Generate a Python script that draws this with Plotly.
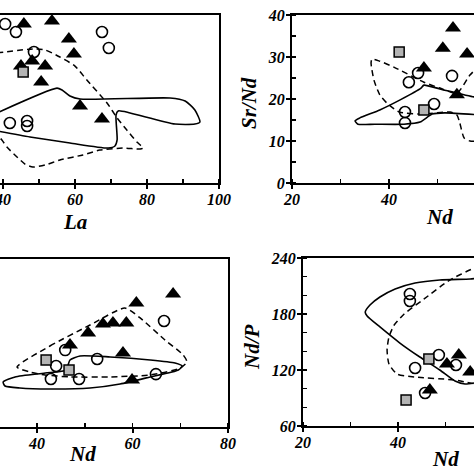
import plotly.graph_objects as go

# ---------------- data ----------------
# Panel A (top-left): La vs (cropped y axis, relative units 0-100)
A_circ_x = [40.6, 43.6, 67.5, 69.4, 48.6, 41.9, 46.7, 46.7]
A_circ_y = [94.6, 89.9, 89.9, 80.4, 78.0, 35.7, 36.9, 33.9]
A_tri_x = [45.8, 53.6, 58.3, 59.7, 48.1, 45.0, 51.7, 50.6, 61.4, 67.5]
A_tri_y = [94.6, 96.4, 85.7, 76.8, 72.6, 69.6, 69.6, 60.1, 45.8, 38.1]
A_sq_x = [45.6]
A_sq_y = [66.1]
A_solid_x = [38.3, 55.0, 56.4, 58.6, 61.4, 86.4, 90.6, 93.3, 94.7, 93.3, 87.8, 75.3, 72.0, 71.4, 71.7, 71.1, 69.2, 58.6, 47.5, 38.3]
A_solid_y = [41.7, 56.5, 55.4, 51.8, 50.0, 50.6, 48.8, 43.5, 36.3, 35.1, 35.1, 41.7, 42.9, 40.5, 25.6, 22.0, 20.8, 23.8, 27.4, 31.0]
A_dash_x = [38.3, 48.3, 51.7, 55.8, 60.0, 63.3, 68.9, 71.7, 74.4, 77.2, 78.9, 78.1, 73.3, 66.9, 62.2, 55.8, 51.7, 48.3, 46.1, 43.3, 41.1, 39.7, 38.3]
A_dash_y = [77.4, 79.8, 79.2, 75.0, 69.6, 61.3, 47.6, 38.7, 31.5, 24.4, 20.8, 20.2, 20.8, 19.6, 16.7, 13.7, 10.7, 9.5, 11.3, 16.7, 21.4, 25.6, 28.6]

# Panel B (top-right): Nd vs Sr/Nd
B_circ_x = [44.1, 46.0, 53.0, 43.3, 43.3, 49.3]
B_circ_y = [24.0, 26.2, 25.5, 16.9, 14.3, 18.8]
B_tri_x = [53.2, 51.1, 56.1, 47.2, 54.0]
B_tri_y = [36.9, 32.1, 30.7, 27.4, 21.0]
B_sq_x = [42.1, 47.2]
B_sq_y = [31.2, 17.4]
B_solid_x = [58.8, 57.5, 50.5, 47.2, 46.6, 42.3, 38.1, 34.0, 33.0, 33.6, 37.1, 43.1, 46.4, 48.9, 51.5, 58.8]
B_solid_y = [20.5, 20.5, 22.4, 23.3, 22.6, 19.8, 17.4, 15.5, 14.8, 14.0, 14.0, 14.0, 14.5, 16.4, 16.7, 16.2]
B_dash_x = [58.8, 56.7, 54.0, 50.5, 47.2, 41.0, 38.1, 36.5, 36.3, 36.9, 38.1, 39.6, 42.1, 46.4, 52.6, 54.0, 54.6, 55.5, 56.7, 58.8]
B_dash_y = [28.1, 25.7, 21.4, 22.6, 24.0, 27.6, 29.0, 29.5, 28.6, 24.5, 21.0, 19.0, 16.9, 16.4, 16.9, 16.2, 14.3, 10.7, 10.0, 10.0]

# Panel C (bottom-left): Nd vs (cropped y axis, relative units 0-100)
C_circ_x = [66.6, 45.9, 44.0, 52.6, 42.9, 48.8, 64.9]
C_circ_y = [63.1, 45.8, 36.3, 40.5, 28.6, 28.6, 31.5]
C_tri_x = [68.5, 60.8, 53.8, 55.9, 58.7, 50.7, 46.9, 58.0, 59.9]
C_tri_y = [79.2, 73.8, 61.3, 61.9, 61.9, 56.0, 48.8, 44.0, 28.0]
C_sq_x = [41.9, 46.7]
C_sq_y = [39.9, 33.9]
C_solid_x = [32.9, 35.4, 41.7, 46.1, 46.5, 46.9, 49.0, 55.3, 63.7, 68.9, 70.4, 69.6, 63.7, 57.4, 51.1, 42.7, 36.4, 33.3, 32.9]
C_solid_y = [26.8, 29.8, 32.1, 33.9, 36.9, 39.9, 42.3, 41.7, 39.9, 38.1, 36.3, 33.9, 29.8, 25.6, 23.2, 22.6, 23.2, 24.4, 26.8]
C_dash_x = [35.8, 42.7, 51.1, 58.4, 61.6, 66.8, 70.6, 71.4, 70.0, 63.7, 55.3, 46.9, 41.7, 38.5, 35.8]
C_dash_y = [35.7, 48.2, 60.7, 70.8, 64.9, 51.8, 42.9, 38.7, 35.1, 31.0, 29.8, 29.8, 31.0, 32.7, 35.7]

# Panel D (bottom-right): Nd vs Nd/P
D_circ_x = [42.5, 42.5, 48.6, 43.6, 52.2, 45.7]
D_circ_y = [201.4, 194.0, 136.1, 122.1, 125.4, 95.4]
D_tri_x = [46.7, 52.8, 50.3, 55.2]
D_tri_y = [98.6, 136.1, 126.4, 117.9]
D_sq_x = [46.5, 41.7]
D_sq_y = [131.8, 87.9]
D_solid_x = [57.3, 55.2, 48.8, 43.6, 39.4, 36.2, 34.1, 33.1, 33.5, 36.2, 40.4, 44.6, 48.8, 52.0, 54.1, 57.3]
D_solid_y = [218.6, 217.5, 216.4, 213.2, 206.8, 198.2, 189.6, 182.1, 177.9, 166.1, 148.9, 133.9, 120.0, 108.2, 105.0, 107.1]
D_dash_x = [57.3, 55.6, 50.9, 45.5, 41.3, 39.2, 38.1, 37.7, 38.1, 39.8, 43.4, 51.8, 57.3]
D_dash_y = [231.4, 228.2, 216.4, 196.1, 180.0, 168.2, 155.4, 141.4, 126.4, 115.7, 112.5, 109.3, 103.9]

# ---------------- figure ----------------
W = H = 474
FONT = "Liberation Serif"
fig = go.Figure()

def add_panel(suffix, cx, cy, tx, ty, sx, sy, solx, soly, dx, dy):
    xa = "x" + suffix
    ya = "y" + suffix
    fig.add_trace(go.Scatter(x=solx, y=soly, mode="lines", xaxis=xa, yaxis=ya,
                             line=dict(color="black", width=1.6, shape="spline", smoothing=0.6),
                             showlegend=False, hoverinfo="skip"))
    fig.add_trace(go.Scatter(x=dx, y=dy, mode="lines", xaxis=xa, yaxis=ya,
                             line=dict(color="black", width=1.5, dash="6px,4px", shape="spline", smoothing=0.6),
                             showlegend=False, hoverinfo="skip"))
    fig.add_trace(go.Scatter(x=cx, y=cy, mode="markers", xaxis=xa, yaxis=ya,
                             marker=dict(symbol="circle-open", size=11, color="black", line=dict(width=1.6)),
                             showlegend=False))
    fig.add_trace(go.Scatter(x=tx, y=ty, mode="markers", xaxis=xa, yaxis=ya,
                             marker=dict(symbol="triangle-up", size=14, color="black", line=dict(width=0)),
                             showlegend=False))
    fig.add_trace(go.Scatter(x=sx, y=sy, mode="markers", xaxis=xa, yaxis=ya,
                             marker=dict(symbol="square", size=10, color="#b4b4b4", line=dict(width=1.5, color="black")),
                             showlegend=False))

add_panel("", A_circ_x, A_circ_y, A_tri_x, A_tri_y, A_sq_x, A_sq_y, A_solid_x, A_solid_y, A_dash_x, A_dash_y)
add_panel("2", B_circ_x, B_circ_y, B_tri_x, B_tri_y, B_sq_x, B_sq_y, B_solid_x, B_solid_y, B_dash_x, B_dash_y)
add_panel("3", C_circ_x, C_circ_y, C_tri_x, C_tri_y, C_sq_x, C_sq_y, C_solid_x, C_solid_y, C_dash_x, C_dash_y)
add_panel("4", D_circ_x, D_circ_y, D_tri_x, D_tri_y, D_sq_x, D_sq_y, D_solid_x, D_solid_y, D_dash_x, D_dash_y)

tickfont = dict(family=FONT, size=16, color="black", style="italic", weight="bold")

def xax(domain, rng, dtick, mdtick, anchor):
    return dict(domain=domain, range=rng, anchor=anchor, dtick=dtick, tick0=0,
                showline=True, linewidth=2, linecolor="black", mirror=True,
                ticks="outside", ticklen=4, tickwidth=2, tickcolor="black",
                minor=dict(dtick=mdtick, ticks="inside", ticklen=4, tickwidth=1.5, tickcolor="black"),
                showgrid=False, zeroline=False, tickfont=tickfont, automargin=False,
                ticklabelstandoff=-3,
                ticklabeloverflow="allow", fixedrange=True)

def yax_hidden(domain, anchor):
    return dict(domain=domain, range=[0, 100], anchor=anchor, side="right",
                showline=True, linewidth=2, linecolor="black", mirror=False, automargin=False,
                ticks="", showticklabels=False, showgrid=False, zeroline=False, fixedrange=True)

def yax(domain, rng, dtick, mdtick, anchor):
    return dict(domain=domain, range=rng, anchor=anchor, dtick=dtick, tick0=0,
                showline=True, linewidth=2, linecolor="black", mirror=False,
                ticks="outside", ticklen=4, tickwidth=2, tickcolor="black",
                minor=dict(dtick=mdtick, ticks="inside", ticklen=4, tickwidth=1.5, tickcolor="black"),
                showgrid=False, zeroline=False, tickfont=tickfont, automargin=False,
                ticklabelstandoff=-2,
                ticklabeloverflow="allow", fixedrange=True)

top_dom = [1 - 183 / H, 1 - 15 / H]
fig.update_layout(
    xaxis=xax([0, 219 / W], [39.17, 100], 20, 10, "y"),
    yaxis=yax_hidden(top_dom, "x"),
    xaxis2=xax([292 / W, 1], [20, 57.53], 20, 10, "y2"),
    yaxis2=yax(top_dom, [0, 40], 10, 5, "x2"),
    xaxis3=xax([0, 228 / W], [32.24, 80], 20, 10, "y3"),
    yaxis3=yax_hidden([1 - 427 / H, 1 - 259 / H], "x3"),
    xaxis4=xax([303 / W, 1], [20, 56.0], 20, 10, "y4"),
    yaxis4=yax([1 - 426 / H, 1 - 258 / H], [60, 240], 60, 20, "x4"),
)

titlefont = dict(family=FONT, size=21, color="black", style="italic", weight="bold")
labels = [("La", 75, 222, 0), ("Nd", 439, 217, 0), ("Nd", 82, 454, 0), ("Nd", 445, 459, 0),
          ("Sr/Nd", 249, 103, -90), ("Nd/P", 252, 347, -90)]
for txt, px, py, rot in labels:
    fig.add_annotation(text=txt, x=px / W, y=1 - py / H, xref="paper", yref="paper",
                       showarrow=False, font=titlefont, textangle=rot,
                       xanchor="center", yanchor="middle")

fig.update_layout(width=W, height=H, margin=dict(l=0, r=0, t=0, b=0),
                  paper_bgcolor="white", plot_bgcolor="white", hovermode=False)
fig.write_html("out.html", config={"displayModeBar": False, "staticPlot": True},
               post_script="document.body.style.margin='0px';document.body.style.overflow='hidden';")
